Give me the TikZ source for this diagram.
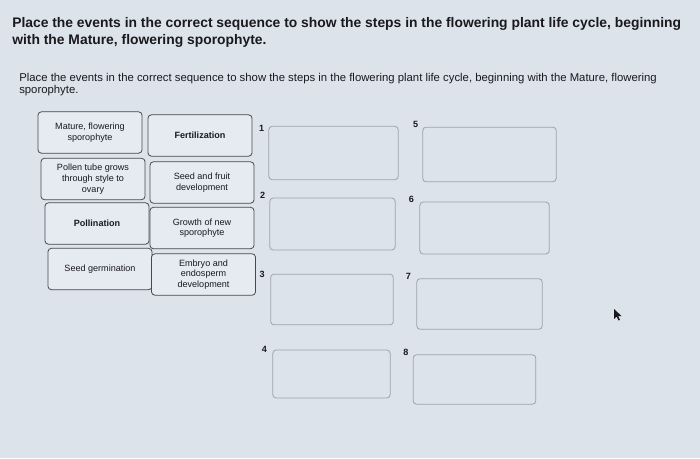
\documentclass[tikz,border=0pt]{standalone}
\usepackage{fontspec}
\setmainfont{Liberation Sans}
\usetikzlibrary{positioning}
\definecolor{screenbg}{RGB}{220,227,235}
\definecolor{cardfill}{RGB}{229,235,241}
\definecolor{cardline}{RGB}{70,74,80}
\definecolor{slotline}{RGB}{158,163,170}
\definecolor{inktext}{RGB}{25,25,30}
\tikzset{
  card/.style={draw=cardline, line width=0.6pt, fill=cardfill, rounded corners=2.5pt,
    minimum width=78pt, minimum height=31pt, inner sep=1pt, align=center,
    text=inktext, font=\fontsize{6.8}{8}\selectfont},
  slot/.style={draw=slotline, line width=0.6pt, rounded corners=2.5pt,
    minimum width=94pt, minimum height=39pt},
  slotnum/.style={anchor=north east, inner sep=0pt, text=inktext,
    font=\bfseries\fontsize{6.8}{7}\selectfont}
}

\begin{document}
\begin{tikzpicture}[x=0.75pt,y=0.75pt,yscale=-1,xscale=1]
%background
\fill[screenbg] (0,0) rectangle (700,458);
\useasboundingbox (0,0) rectangle (700,458);

% Text Node
\node (head) [anchor=north west, inner sep=0pt, align=left, text=inktext,
  font=\bfseries\fontsize{10.4}{13}\selectfont] at (12,17)
  {Place the events in the correct sequence to show the steps in the flowering plant life cycle, beginning\\
   with the Mature, flowering sporophyte.};
% Text Node
\node (prompt) [anchor=north west, inner sep=0pt, align=left, text=inktext,
  font=\fontsize{8.5}{9}\selectfont] at (19,73)
  {Place the events in the correct sequence to show the steps in the flowering plant life cycle, beginning with the Mature, flowering\\
   sporophyte.};

%cards
\node (mature) [card] at (90,132.5) {Mature, flowering\\sporophyte};
\node (fert) [card] at (200,135.5) {\bfseries Fertilization};
\node (pollen) [card] at (93,179) {Pollen tube grows\\through style to\\ovary};
\node (seedfruit) [card] at (202,182.5) {Seed and fruit\\development};
\node (pollin) [card] at (97,223.5) {\bfseries Pollination};
\node (growth) [card] at (202,228) {Growth of new\\sporophyte};
\node (germ) [card] at (100,269) {Seed germination};
\node (embryo) [card] at (203.5,274.5) {Embryo and\\endosperm\\development};

%answer slots
\node (slotA) [slot, minimum width=97pt, minimum height=40pt] at (333.5,153) {};
\node (slotB) [slot, minimum width=94pt, minimum height=39pt] at (332.5,224) {};
\node (slotC) [slot, minimum width=92pt, minimum height=38pt] at (332,299.5) {};
\node (slotD) [slot, minimum width=88pt, minimum height=36pt] at (331.5,374) {};
\node (slotE) [slot, minimum width=100pt, minimum height=41pt] at (489.5,154.5) {};
\node (slotF) [slot, minimum width=97pt, minimum height=39pt] at (484.5,228) {};
\node (slotG) [slot, minimum width=94pt, minimum height=38pt] at (479.5,304) {};
\node (slotH) [slot, minimum width=92pt, minimum height=37pt] at (474.5,379.5) {};

%slot numbers
\node (numA) [slotnum] at ([xshift=-3pt,yshift=-1pt]slotA.north west) {1};
\node (numB) [slotnum] at ([xshift=-3pt,yshift=-4pt]slotB.north west) {2};
\node (numC) [slotnum] at ([xshift=-4pt,yshift=-2pt]slotC.north west) {3};
\node (numD) [slotnum] at ([xshift=-4pt,yshift=-3pt]slotD.north west) {4};
\node (numE) [slotnum] at ([xshift=-3pt,yshift=-4pt]slotE.north west) {5};
\node (numF) [slotnum] at ([xshift=-4pt,yshift=-4pt]slotF.north west) {6};
\node (numG) [slotnum] at ([xshift=-4pt,yshift=-4pt]slotG.north west) {7};
\node (numH) [slotnum] at ([xshift=-3pt,yshift=-4pt]slotH.north west) {8};

%mouse pointer
\fill[inktext] (614,309) -- (614,319) -- (616.5,316.5) -- (618.5,320.5) -- (620,319.8) -- (618,316) -- (621.5,316) -- cycle;

\end{tikzpicture}
\end{document}
